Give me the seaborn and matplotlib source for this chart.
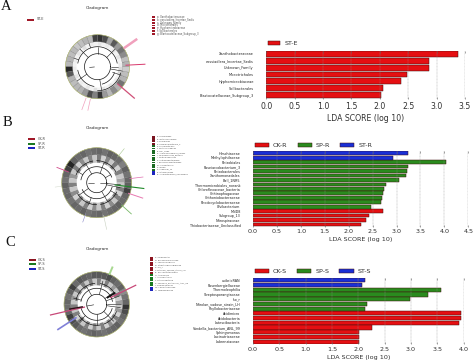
import numpy as np
import pandas as pd
import matplotlib
matplotlib.use("Agg")
import matplotlib.pyplot as plt
import seaborn as sns

W, H = 474, 360

# --- bar data, top to bottom ---
a_labels = ["Xanthobacteraceae", "eossiadlera_Incertae_Sedis", "Unknown_Family", "Microtrichales",
            "Hyphomicrobiaceae", "Solibacterales", "Blastocatellaceae_Subgroup_3"]
a_values = [3.38, 2.87, 2.86, 2.47, 2.37, 2.05, 2.02]
a_groups = ["ST-E"] * 7

b_labels = ["Hirschiaceae", "Methylophilaceae", "Rhizobiales", "Roseiarcobacterium_3", "Rhizobacterales",
            "Xanthomonadales", "Ball_1NR5", "Thermomicrobiales_norank", "Chloroflexaceae_bacteria",
            "Chitinophagaceae", "Chthoniobacteraceae", "Rhodocyclobacteraceae", "Ulvibacterium",
            "MND8", "Subgroup_13", "Nitrospiraceae", "Thiobacteriaceae_Unclassified"]
b_values = [3.25, 2.93, 4.04, 3.24, 3.22, 3.20, 3.06, 2.77, 2.73, 2.71, 2.69, 2.68, 2.47,
            2.72, 2.43, 2.36, 2.26]
b_groups = ["ST-R"] * 2 + ["SP-R"] * 11 + ["CK-R"] * 4

c_labels = ["uvibrioRAN", "Rosenbergiellaceae", "Thermoleophilia", "Streptosporangiaceae", "Iso_r",
            "Nitrolan_vadose_strain_LH", "Phyllobacteriaceae", "Acidimicro", "Acidobacteria",
            "Latescibacteria", "Vandella_bacterium_ANL_99", "Sphingomonas", "Lacinutrixaceae",
            "Labrenziaceae"]
c_values = [2.12, 2.06, 3.56, 3.33, 2.98, 2.16, 2.13, 3.94, 3.94, 3.92, 2.25, 2.02, 2.02, 2.02]
c_groups = ["ST-S"] * 2 + ["SP-S"] * 5 + ["CK-S"] * 7

RED, GREEN, BLUE = "#e50f12", "#2a8b1e", "#1a2fd6"

# --- cladogram data: one shade per 10 degree sector, counter-clockwise from east ---
a_outer = [.70, .75, .55, .45, .60, .35, .65, .30, .20, .25, .72, .70, .75, .78, .72, .74, .70, .72,
           .15, .35, .70, .74, .72, .70, .60, .30, .50, .20, .60, .72, .55, .70, .45, .70, .74, .80]
a_mid = [.92, .95, .90, .95, .90, .95, .92, .95, .90, .95, .92, .95, .88, .95, .90, .95, .92, .95,
         .92, .95, .90, .95, .92, .95, .90, .95, .88, .95, .90, .95, .90, .95, .92, .95, .85, .85]
a_arcs = [(13, 0, 360), (20, 10, 170), (20, 190, 260), (24, 270, 345), (18, 285, 340)]
a_spokes = [(0, 13, 20), (45, 13, 25), (90, 13, 20), (135, 13, 25), (185, 3, 8), (215, 13, 25),
            (280, 13, 24), (350, 13, 25), (-20, 16, 25), (110, 20, 25), (160, 20, 25)]
a_leaders = [(35, 32, 48.5, "#f0a0bc", 1.8), (3, 28, 48, "#d8386c", .7), (-40.5, 26, 49, "#d05078", .9),
             (250, 33, 46, "#f0a0bc", .5), (257.6, 33, 45, "#f0a0bc", .5)]

b_outer = [.40, .45, .38, .50, .42, .40, .38, .45, .40, .42, .45, .40, .42, .38, .15, .25, .40, .45,
           .38, .42, .40, .45, .40, .42, .38, .45, .42, .40, .45, .42, .40, .38, .42, .40, .25, .38]
b_mid = [.65, .78, .50, .82, .48, .78, .52, .82, .48, .78, .52, .78, .55, .82, .50, .78, .60, .78,
         .50, .78, .55, .82, .50, .78, .50, .82, .55, .78, .50, .82, .55, .78, .50, .82, .50, .78]
b_arcs = [(10, 0, 360), (16, 20, 170), (16, 205, 345), (22, 30, 90), (22, 100, 160), (22, 210, 270),
          (22, 280, 335)]
b_spokes = [(0, 3, 10), (30, 10, 16), (70, 10, 22), (120, 10, 22), (150, 16, 24), (215, 10, 22),
            (250, 16, 24), (300, 10, 22), (330, 16, 24), (-5, 10, 24), (-12, 10, 24), (180, 3, 9)]
b_leaders = [(51, 33, 44, "#a8c890", .4), (159, 30, 43, "#d04888", .6), (7, 33, 47, "#e070b0", .5),
             (-7, 18, 48, "#1f8a2a", .8), (-18.5, 33, 49, "#e878b0", .7), (-42, 33, 47, "#78b868", .6),
             (-78, 33, 48, "#c8d0c0", .4), (250.5, 33, 42, "#8888c8", .4), (186, 36, 42, "#c8d0c0", .3)]

c_outer = [.40, .45, .55, .38, .42, .38, .30, .35, .35, .35, .40, .38, .35, .42, .25, .38, .45, .40,
           .42, .40, .25, .30, .35, .42, .45, .42, .38, .42, .45, .42, .40, .38, .45, .40, .30, .20]
c_mid = [.62, .80, .50, .78, .60, .78, .50, .82, .50, .78, .50, .78, .50, .82, .50, .78, .60, .78,
         .50, .78, .50, .82, .50, .78, .50, .82, .55, .78, .50, .82, .55, .78, .50, .82, .60, .78]
c_arcs = [(10, 0, 360), (16, 10, 170), (16, 195, 345), (21, 30, 80), (21, 95, 170), (21, 210, 280),
          (21, 290, 340)]
c_spokes = [(0, 10, 24), (35, 10, 21), (75, 10, 24), (120, 10, 21), (165, 16, 24), (190, 3, 10),
            (225, 16, 24), (270, 10, 21), (315, 10, 24), (-8, 10, 24), (20, 10, 24)]
c_leaders = [(67, 32, 41, "#a8d890", 1.4), (26, 15, 44, "#c84878", .9), (193, 12, 48, "#c84878", .9),
             (213, 24, 47, "#8080d8", 1.2), (32, 12, 22, "#101010", 1.3), (190, 14, 28, "#301018", 1.0)]

sns.set_theme(style="white")
plt.rcParams["font.family"] = ["DejaVu Sans"]

fig = plt.figure(figsize=(W / 100, H / 100), dpi=100, facecolor="white")


def px_axes(x0, y0, x1, y1, **kw):
    return fig.add_axes([x0 / W, 1 - y1 / H, (x1 - x0) / W, (y1 - y0) / H], **kw)


def lda_panel(box, labels, values, groups, xmax, palette, order, label_size, tick_size, leg_anchor, tpad, lpad, hlen):
    ax = px_axes(*box)
    df = pd.DataFrame({"Feature": labels, "LDA": values, "Group": groups})
    sns.barplot(data=df, y="Feature", x="LDA", hue="Group", hue_order=order, order=labels, palette=palette,
                dodge=False, width=0.85, edgecolor="#401010", linewidth=0.35, ax=ax, saturation=1)
    ax.set_xlim(0, xmax)
    ax.set_ylim(len(labels) - 0.5, -0.5)
    ax.set_xticks(np.arange(0, xmax + 0.01, 0.5))
    ax.grid(axis="x", color="#909090", lw=0.35, ls=(0, (2, 1)), alpha=0.8)
    ax.set_axisbelow(False)
    for side in ax.spines:
        ax.spines[side].set_visible(False)
    ax.tick_params(axis="x", top=True, bottom=True, direction="in", length=1.5, width=0.4, color="#606060",
                   labelsize=tick_size, pad=tpad, labelcolor="#303030")
    ax.tick_params(axis="y", left=False, labelsize=label_size, pad=3, labelcolor="#222222")
    ax.set_ylabel("")
    ax.set_xlabel("LDA SCORE (log 10)", fontsize=tick_size, labelpad=lpad, color="#303030")
    sns.move_legend(ax, "lower left", bbox_to_anchor=leg_anchor, ncol=3, frameon=False, title=None,
                    fontsize=4.6, handlelength=hlen, handleheight=0.55, columnspacing=1.6, handletextpad=0.6,
                    labelcolor="#303030", borderpad=0, borderaxespad=0)
    return ax


def cladogram(cx, cy, outer, mid, arcs, spokes, leaders, r_out, r_band, r_mid):
    ax = px_axes(cx - 58, cy - 58, cx + 58, cy + 58, projection="polar")
    ax.patch.set_alpha(0)
    ax.set_axis_off()
    ax.set_ylim(0, 58)
    theta = np.deg2rad(np.arange(5, 360, 10))
    width = np.deg2rad(10)
    ax.bar(theta, r_band - r_mid, bottom=r_mid, width=width, color=[str(v) for v in mid], lw=0)
    ax.bar(theta, r_out - r_band, bottom=r_band, width=width, color=[str(v) for v in outer],
           edgecolor="#606060", lw=0.15)
    ax.plot(np.linspace(0, 2 * np.pi, 200), np.full(200, r_out), color="#b8c070", lw=0.4)
    for r, a0, a1 in arcs:
        ax.plot(np.deg2rad(np.linspace(a0, a1, 60)), np.full(60, r), color="#151515", lw=0.5)
    for a, r0, r1 in spokes:
        ax.plot([np.deg2rad(a)] * 2, [r0, r1], color="#151515", lw=0.4)
    for a, r0, r1, col, lw in leaders:
        ax.plot([np.deg2rad(a)] * 2, [r0, r1], color=col, lw=lw, solid_capstyle="butt")
    return ax


# panels on the right
lda_panel((266.3, 50.5, 465, 98.5), a_labels, a_values, a_groups, 3.5, {"ST-E": RED}, ["ST-E"],
          2.5, 5.6, (0.01, 1.09), 2.4, 2.2, 1.9)
lda_panel((253, 151, 468.3, 226.7), b_labels, b_values, b_groups, 4.5, {"CK-R": RED, "SP-R": GREEN, "ST-R": BLUE},
          ["CK-R", "SP-R", "ST-R"], 2.4, 4.6, (0.01, 1.04), 2.0, 2.0, 2.2)
lda_panel((253, 278, 463.7, 344), c_labels, c_values, c_groups, 4.0, {"CK-S": RED, "SP-S": GREEN, "ST-S": BLUE},
          ["CK-S", "SP-S", "ST-S"], 2.4, 4.6, (0.01, 1.06), 2.0, 2.6, 2.2)

# cladograms on the left
cladogram(97.5, 66.7, a_outer, a_mid, a_arcs, a_spokes, a_leaders, 32, 25, 21)
cladogram(96.7, 182.7, b_outer, b_mid, b_arcs, b_spokes, b_leaders, 35, 28, 20)
cladogram(96.7, 304.3, c_outer, c_mid, c_arcs, c_spokes, c_leaders, 32.7, 26, 19)

# overlay in pixel units for the small texts and keys
ov = fig.add_axes([0, 0, 1, 1], zorder=10)
ov.set_xlim(0, W)
ov.set_ylim(H, 0)
ov.set_axis_off()
ov.patch.set_alpha(0)

for txt, x, y in [("A", 1, 6), ("B", 3, 122), ("C", 5, 243)]:
    ov.text(x, y, txt, family="Liberation Serif", fontsize=10.5, va="center", color="#111111")
for y in [8, 127.5, 249]:
    ov.text(97, y, "Cladogram", fontsize=3.1, ha="center", va="center", color="#303030")


def key_block(x, y0, dy, names, colors):
    for i, (name, col) in enumerate(zip(names, colors)):
        ov.fill_between([x, x + 7], y0 + i * dy - 1, y0 + i * dy + 1, color=col, lw=0)
        ov.text(x + 9, y0 + i * dy, name, fontsize=2.4, va="center", color="#404040")


def tiny_legend(x, y0, dy, names, colors, size):
    for i, (name, col) in enumerate(zip(names, colors)):
        ov.fill_between([x, x + 3.5], y0 + i * dy - 0.9, y0 + i * dy + 0.9, color=col, lw=0)
        ov.text(x + 5, y0 + i * dy, name, fontsize=size, va="center", color="#505050")


DK = {"ST-E": "#a01828", "CK-R": "#a01828", "SP-R": "#1a7a22", "ST-R": "#1c24c0",
      "CK-S": "#8c1420", "SP-S": "#1a7a22", "ST-S": "#1c24c0"}
key_block(27.5, 19.5, 4.5, ["ST-E"], [DK["ST-E"]])
key_block(28.5, 139, 4.6, ["CK-R", "SP-R", "ST-R"], [DK["CK-R"], DK["SP-R"], DK["ST-R"]])
key_block(29, 260, 4.3, ["CK-S", "SP-S", "ST-S"], [DK["CK-S"], DK["SP-S"], DK["ST-S"]])

letters = "abcdefghijklmnopqrstuvwxyz"
tiny_legend(152, 17, 2.8, [f"{letters[i]}: {n}" for i, n in enumerate(a_labels)], [DK[g] for g in a_groups], 1.8)
tiny_legend(152, 136.7, 2.35, [f"{letters[i]}: {n}" for i, n in enumerate(b_labels)],
            ["#7a1420" if g == "CK-R" else "#1a6a22" if g == "SP-R" else "#1c24c0" for g in b_groups[::-1]], 1.4)
tiny_legend(150, 257.7, 2.5, [f"{letters[i]}: {n}" for i, n in enumerate(c_labels)],
            ["#8c1420" if g == "CK-S" else "#1a7a22" if g == "SP-S" else "#1c24c0" for g in c_groups[::-1]], 1.5)

fig.savefig("out.png", dpi=100)
